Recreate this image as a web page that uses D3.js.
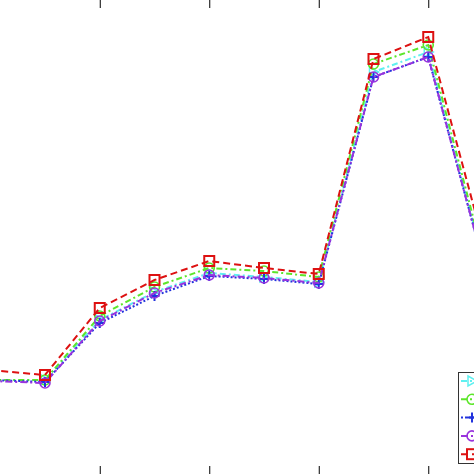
<!DOCTYPE html><html><head><script src="https://cdn.jsdelivr.net/npm/d3@7"></script>
<style>body{margin:0}svg{display:block}</style></head><body><script>
const xIdx=[0,1,2,3,4,5,6,7,8,9];
const red=[104,99,166,194,213,206,200,415,437,233];
const green=[94,94,158,187,206,203,197,410,429,219];
const cyan=[94,94,154,182,201,197,192,402,422,214];
const blue=[94,92,151,178,198,195,190,397,417,212];
const purple=[93,91,153,181,199,196,191,397,417,212];
const xTicks=[2,4,6,8];
const W=474,H=474;
const svg=d3.select("body").append("svg").attr("width",W).attr("height",H);
svg.append("rect").attr("width",W).attr("height",H).attr("fill","#fff");
const x=d3.scaleLinear().domain([1,9]).range([45,483]);
const y=d3.scaleLinear().domain([0,474]).range([474,0]);
svg.append("g").attr("transform","translate(0,474)").call(d3.axisTop(x).tickValues(xTicks).tickFormat("").tickSize(8)).call(g=>g.select(".domain").remove());
svg.append("g").attr("transform","translate(0,0)").call(d3.axisBottom(x).tickValues(xTicks).tickFormat("").tickSize(8)).call(g=>g.select(".domain").remove());
const series=[
 {v:cyan,c:"#5ff0f0",d:"6,3,2,3",m:"tri"},
 {v:green,c:"#5ce62a",d:"6,3,2,3",m:"circ"},
 {v:blue,c:"#2233dd",d:"2,2",m:"plus"},
 {v:purple,c:"#9933dd",d:"7,3,2,3",m:"circ"},
 {v:red,c:"#dd1111",d:"7,4",m:"sq"}];
const line=d3.line().x((d,i)=>x(xIdx[i])).y(d=>y(d));
function marker(g,m,c,px,py){
 if(m==="sq")g.append("rect").attr("x",px-5).attr("y",py-5).attr("width",10).attr("height",10).attr("fill","none").attr("stroke",c).attr("stroke-width",2);
 else if(m==="circ")g.append("circle").attr("cx",px).attr("cy",py).attr("r",5).attr("fill","none").attr("stroke",c).attr("stroke-width",1.6);
 else if(m==="plus")g.append("path").attr("d",`M${px-5},${py}H${px+5}M${px},${py-5}V${py+5}`).attr("stroke",c).attr("stroke-width",2);
 else g.append("path").attr("d",`M${px-4},${py-5}L${px+5},${py}L${px-4},${py+5}Z`).attr("fill","none").attr("stroke",c).attr("stroke-width",1.5);
}
series.forEach(s=>{
 svg.append("path").datum(s.v).attr("d",line).attr("fill","none").attr("stroke",s.c).attr("stroke-width",2).attr("stroke-dasharray",s.d);
 const g=svg.append("g");
 s.v.forEach((d,i)=>marker(g,s.m,s.c,x(xIdx[i]),y(d)));
});
const lg=svg.append("g");
lg.append("rect").attr("x",458.5).attr("y",372.5).attr("width",30).attr("height",91).attr("fill","#fff").attr("stroke","#333");
series.forEach((s,i)=>{
 const ly=381+i*18.3;
 lg.append("line").attr("x1",461).attr("x2",485).attr("y1",ly).attr("y2",ly).attr("stroke",s.c).attr("stroke-width",2).attr("stroke-dasharray",s.d);
 marker(lg,s.m,s.c,472,ly);
});
</script></body></html>
